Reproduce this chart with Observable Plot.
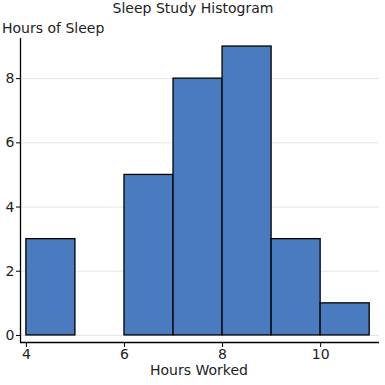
<!DOCTYPE html>
<html><head><meta charset="utf-8">
<script src="https://cdn.jsdelivr.net/npm/d3@7"></script>
<script src="https://cdn.jsdelivr.net/npm/@observablehq/plot@0.6"></script>
<style>body{margin:0;background:#fff;} svg{display:block;}</style>
</head><body>
<div id="chart"></div>
<script>
const binStarts = [4, 5, 6, 7, 8, 9, 10];
const binWidth = 1;
const counts = [3, 0, 5, 8, 9, 3, 1];
const xTicks = [4, 6, 8, 10];
const yTicks = [0, 2, 4, 6, 8];
const title = "Sleep Study Histogram";
const xLabel = "Hours Worked";
const yLabel = "Hours of Sleep";

const bins = binStarts.map((s, i) => ({x1: s, x2: s + binWidth, y: counts[i]})).filter(d => d.y > 0);
const xDomain = [3.88, 11.2];
const yDomain = [-0.22, 9.25];

const chart = Plot.plot({
  width: 385, height: 385,
  marginLeft: 20, marginRight: 6, marginTop: 38, marginBottom: 43,
  style: {fontFamily: "DejaVu Sans, Verdana, sans-serif", fontSize: "14px", color: "#222", background: "#fff"},
  x: {domain: xDomain},
  y: {domain: yDomain},
  marks: [
    Plot.gridY(yTicks, {stroke: "#e6e6e6", strokeOpacity: 1, strokeWidth: 1}),
    Plot.rectY(bins, {x1: "x1", x2: "x2", y: "y", fill: "#4a7bbf", stroke: "#000", strokeWidth: 1.3}),
    Plot.ruleX([xDomain[0]], {stroke: "#000", strokeWidth: 1.3}),
    Plot.ruleY([yDomain[0]], {stroke: "#000", strokeWidth: 1.3}),
    Plot.axisX(xTicks, {tickSize: 5, tickPadding: 2, label: null, fontSize: 14, stroke: "#000"}),
    Plot.axisY(yTicks, {tickSize: 4, tickPadding: 2, label: null, fontSize: 14, stroke: "#000"})
  ]
});
const svg = d3.select(chart);
svg.append("text").attr("x", 193).attr("y", 13).attr("text-anchor", "middle")
  .attr("font-size", 14).attr("fill", "#222").text(title);
svg.append("text").attr("x", 2).attr("y", 33).attr("text-anchor", "start")
  .attr("font-size", 14).attr("fill", "#222").text(yLabel);
svg.append("text").attr("x", 199).attr("y", 375).attr("text-anchor", "middle")
  .attr("font-size", 14).attr("fill", "#222").text(xLabel);
document.getElementById("chart").appendChild(chart);
</script>
</body></html>
